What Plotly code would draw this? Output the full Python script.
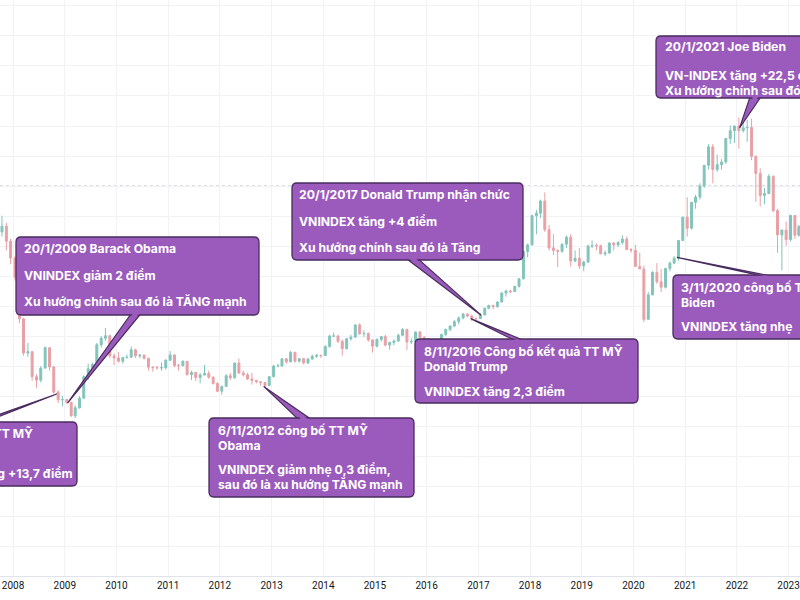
import plotly.graph_objects as go
import pandas as pd

# ---------------- data (monthly VN-INDEX, Oct 2007 .. Mar 2023) ----------------
opens = [
    1040, 1065, 1000,
    927, 844, 664, 516, 522, 414, 399, 451, 539, 456, 347, 314,
    315, 303, 245, 280, 321, 414, 448, 467, 552, 580, 591, 504,
    495, 481, 497, 498, 530, 504, 507, 494, 455, 453, 452, 453,
    485, 508, 462, 462, 480, 423, 432, 410, 421, 428, 412, 385,
    351, 372, 418, 409, 473, 430, 422, 404, 398, 392, 389, 376,
    414, 460, 460, 491, 478, 519, 481, 492, 473, 490, 502, 506,
    505, 544, 590, 590, 567, 535, 578, 585, 638, 600, 601, 573,
    546, 575, 587, 551, 562, 568, 593, 618, 564, 567, 607, 583,
    579, 546, 562, 561, 596, 618, 633, 652, 668, 685, 676, 665,
    665, 681, 710, 722, 717, 737, 776, 784, 782, 804, 837, 955,
    984, 1110, 1121, 1174, 1050, 971, 960, 956, 987, 1017, 914, 926,
    893, 910, 979, 981, 980, 945, 949, 992, 984, 994, 1009, 964,
    961, 891, 880, 662, 768, 865, 825, 801, 882, 905, 926, 1003,
    1104, 1056, 1168, 1191, 1239, 1328, 1408, 1310, 1331, 1342, 1444, 1478,
    1498, 1478, 1490, 1492, 1367, 1293, 1198, 1206, 1280, 1132, 1027, 1048,
    1007, 1111, 1026,
]
highs = [
    1110, 1080, 1010,
    935, 850, 668, 560, 525, 425, 460, 545, 540, 460, 355, 330,
    318, 305, 290, 330, 420, 470, 475, 560, 590, 624, 595, 515,
    520, 500, 510, 545, 535, 512, 510, 495, 460, 460, 475, 490,
    525, 510, 470, 485, 482, 440, 435, 430, 465, 440, 415, 390,
    375, 425, 430, 475, 493, 440, 430, 430, 400, 395, 390, 415,
    465, 470, 495, 495, 525, 522, 495, 495, 495, 510, 512, 510,
    550, 595, 605, 595, 575, 580, 595, 640, 645, 615, 605, 575,
    580, 590, 595, 565, 575, 600, 625, 622, 580, 610, 612, 590,
    580, 565, 575, 600, 622, 635, 660, 675, 690, 688, 682, 670,
    690, 712, 725, 725, 740, 778, 790, 790, 808, 840, 960, 990,
    1115, 1135, 1180, 1211, 1070, 1030, 965, 990, 1025, 1030, 960, 970,
    915, 985, 1003, 990, 985, 960, 995, 997, 1000, 1025, 1020, 970,
    985, 950, 895, 780, 870, 905, 880, 885, 912, 935, 1005, 1105,
    1190, 1170, 1200, 1250, 1330, 1420, 1420, 1375, 1355, 1445, 1500, 1500,
    1536, 1510, 1525, 1530, 1370, 1315, 1230, 1290, 1285, 1140, 1050, 1085,
    1115, 1112, 1070,
]
lows = [
    1020, 960, 900,
    830, 645, 505, 500, 396, 366, 390, 450, 440, 340, 300, 286,
    296, 240, 235, 275, 318, 400, 430, 462, 540, 570, 495, 464,
    475, 470, 492, 497, 495, 495, 488, 440, 435, 445, 440, 445,
    483, 455, 440, 458, 418, 400, 395, 385, 420, 405, 380, 347,
    336, 370, 400, 405, 425, 415, 400, 380, 385, 375, 366, 375,
    412, 455, 458, 470, 477, 475, 475, 468, 470, 488, 495, 495,
    503, 540, 585, 560, 505, 532, 570, 583, 595, 585, 565, 518,
    540, 565, 545, 530, 550, 565, 590, 530, 555, 565, 575, 560,
    520, 535, 555, 558, 590, 610, 628, 640, 662, 670, 655, 650,
    663, 680, 705, 705, 712, 735, 760, 775, 780, 800, 835, 930,
    982, 1030, 1100, 1040, 960, 940, 888, 950, 970, 890, 910, 880,
    870, 905, 970, 960, 945, 935, 945, 960, 975, 985, 960, 950,
    890, 880, 649, 660, 765, 815, 780, 795, 870, 900, 915, 1000,
    1020, 1050, 1140, 1180, 1230, 1310, 1250, 1300, 1310, 1335, 1420, 1425,
    1400, 1470, 1430, 1350, 1170, 1150, 1160, 1205, 1125, 950, 873, 980,
    1000, 1010, 1020,
]
closes = [
    1065, 1000, 927,
    844, 664, 516, 522, 414, 399, 451, 539, 456, 347, 314, 315,
    303, 245, 280, 321, 414, 448, 467, 552, 580, 591, 504, 495,
    481, 497, 498, 530, 504, 507, 494, 455, 453, 452, 453, 485,
    508, 462, 462, 480, 423, 432, 410, 421, 428, 412, 385, 351,
    372, 418, 409, 473, 430, 422, 404, 398, 392, 389, 376, 414,
    460, 460, 491, 478, 519, 481, 492, 473, 490, 502, 506, 505,
    544, 590, 590, 567, 535, 578, 585, 638, 600, 601, 573, 546,
    575, 587, 551, 562, 568, 593, 618, 564, 567, 607, 583, 579,
    546, 562, 561, 596, 618, 633, 652, 668, 685, 676, 665, 665,
    681, 710, 722, 717, 737, 776, 784, 782, 804, 837, 955, 984,
    1110, 1121, 1174, 1050, 971, 960, 956, 987, 1017, 914, 926, 893,
    910, 979, 981, 980, 945, 949, 992, 984, 994, 1009, 964, 961,
    891, 880, 662, 768, 865, 825, 801, 882, 905, 926, 1003, 1104,
    1056, 1168, 1191, 1239, 1328, 1408, 1310, 1331, 1342, 1444, 1478, 1498,
    1478, 1490, 1492, 1367, 1293, 1198, 1206, 1280, 1132, 1027, 1048, 1007,
    1111, 1026, 1064,
]
months = pd.date_range("2007-10-01", "2023-03-01", freq="MS") + pd.Timedelta(days=14)

LEVEL = 1238  # dotted horizontal level line

# callouts: (anchor date, anchor value) and text lines
callouts = [
    dict(date="2008-11-05", value=339,
         lines=[("5/11/2008 công bố TT MỸ", 35, 433, "right"),
                ("Obama", -150, 448, "left"),
                ("VNINDEX tăng +13,7 điểm", 75, 473, "right")],
         box=(-160, 422, 77, 486), base=(-29, "top", 4)),
    dict(date="2009-01-20", value=300,
         lines=[("20/1/2009 Barack Obama", 22, 248, "left"),
                ("VNINDEX giảm 2 điểm", 22, 275, "left"),
                ("Xu hướng chính sau đó là TĂNG mạnh", 22, 301, "left")],
         box=(16, 237, 259, 315), base=(138, "bottom", 5)),
    dict(date="2012-11-06", value=372,
         lines=[("6/11/2012 công bố TT MỸ", 216, 430, "left"),
                ("Obama", 216, 445, "left"),
                ("VNINDEX giảm nhẹ 0,3 điểm,", 216, 469, "left"),
                ("sau đó là xu hướng TĂNG mạnh", 216, 484, "left")],
         box=(209, 418, 414, 497), base=(308, "top", 7)),
    dict(date="2016-11-08", value=665,
         lines=[("8/11/2016 Công bố kết quả TT MỸ", 422, 351, "left"),
                ("Donald Trump", 422, 366, "left"),
                ("VNINDEX tăng 2,3 điểm", 422, 391, "left")],
         box=(415, 339, 638, 403), base=(525, "top", 5)),
    dict(date="2017-01-20", value=680,
         lines=[("20/1/2017 Donald Trump nhận chức", 297, 194, "left"),
                ("VNINDEX tăng +4 điểm", 297, 221, "left"),
                ("Xu hướng chính sau đó là Tăng", 297, 247, "left")],
         box=(292, 183, 523, 260), base=(409, "bottom", 6)),
    dict(date="2020-11-03", value=930,
         lines=[("3/11/2020 công bố TT MỸ", 679, 287, "left"),
                ("Biden", 679, 302, "left"),
                ("VNINDEX tăng nhẹ", 679, 326, "left")],
         box=(673, 275, 840, 339), base=(781, "top", 5)),
    dict(date="2022-01-20", value=1490,
         lines=[("20/1/2021 Joe Biden", 663, 47, "left"),
                ("VN-INDEX tăng +22,5 điểm", 663, 75, "left"),
                ("Xu hướng chính sau đó", 663, 90, "left")],
         box=(656, 36, 840, 98), base=(757, "bottom", 6)),
]

# ---------------- layout constants ----------------
W, H, MB = 800, 600, 24
PH = H - MB
XR = ["2007-10-01", "2023-03-23"]
YR = [-448, 2043]
UP, DOWN = "#82c4ba", "#e8a0a6"
PURPLE, EDGE = "#9b5bbd", "#4a2d5e"
FONT = dict(family="Inter", size=12.2, color="white", weight="bold")

fig = go.Figure()
fig.add_trace(go.Candlestick(
    x=months, open=opens, high=highs, low=lows, close=closes,
    increasing=dict(line=dict(color=UP, width=1), fillcolor=UP),
    decreasing=dict(line=dict(color=DOWN, width=1), fillcolor=DOWN),
    whiskerwidth=0, showlegend=False, hoverinfo="skip",
))

t0, t1 = pd.Timestamp(XR[0]), pd.Timestamp(XR[1])


def px_x(date):
    return (pd.Timestamp(date) - t0) / (t1 - t0) * W


def px_y(v):
    return PH * (1 - (v - YR[0]) / (YR[1] - YR[0]))


def PX(x):
    return x / W


def PY(y):
    return 1 - y / PH


def rrect(x0, y0, x1, y1, r=5):
    pts = [
        f"M {PX(x0 + r)},{PY(y0)}", f"L {PX(x1 - r)},{PY(y0)}",
        f"Q {PX(x1)},{PY(y0)} {PX(x1)},{PY(y0 + r)}", f"L {PX(x1)},{PY(y1 - r)}",
        f"Q {PX(x1)},{PY(y1)} {PX(x1 - r)},{PY(y1)}", f"L {PX(x0 + r)},{PY(y1)}",
        f"Q {PX(x0)},{PY(y1)} {PX(x0)},{PY(y1 - r)}", f"L {PX(x0)},{PY(y0 + r)}",
        f"Q {PX(x0)},{PY(y0)} {PX(x0 + r)},{PY(y0)}", "Z",
    ]
    return " ".join(pts)


shapes = [dict(type="line", xref="paper", x0=0, x1=1, yref="y", y0=LEVEL, y1=LEVEL,
               line=dict(color="#a3a6af", width=1, dash="dot"), layer="below")]
annotations = []

for c in callouts:
    tx, ty = px_x(c["date"]), px_y(c["value"])
    bx0, by0, bx1, by1 = c["box"]
    cx, side, hw = c["base"]
    edge_y = by0 if side == "top" else by1
    inside = 4 if side == "top" else -4
    b1 = (cx - hw, edge_y + inside)
    b2 = (cx + hw, edge_y + inside)
    wedge = f"M {PX(tx)},{PY(ty)} L {PX(b1[0])},{PY(b1[1])} L {PX(b2[0])},{PY(b2[1])} Z"
    shapes.append(dict(type="path", xref="paper", yref="paper", path=wedge,
                       fillcolor=PURPLE, line=dict(color=EDGE, width=1.2)))
    shapes.append(dict(type="path", xref="paper", yref="paper", path=rrect(bx0, by0, bx1, by1),
                       fillcolor=PURPLE, line=dict(color=EDGE, width=1.3)))
    # patch hiding the box border where the tail joins
    f = 0.25
    mx, my = tx + (cx - tx) * (1 - f), ty + (edge_y + inside - ty) * (1 - f)
    patch = (f"M {PX(mx)},{PY(my)} L {PX(b1[0] + 1.3)},{PY(b1[1])} "
             f"L {PX(b2[0] - 1.3)},{PY(b2[1])} Z")
    shapes.append(dict(type="path", xref="paper", yref="paper", path=patch,
                       fillcolor=PURPLE, line=dict(width=0)))
    for text, lx, ly, anc in c["lines"]:
        annotations.append(dict(
            text=text, xref="paper", yref="paper", x=PX(lx), y=PY(ly),
            xanchor=anc, yanchor="middle", showarrow=False, align="left",
            font=FONT,
        ))

fig.update_layout(
    width=W, height=H, margin=dict(l=0, r=0, t=0, b=MB),
    paper_bgcolor="white", plot_bgcolor="white",
    shapes=shapes, annotations=annotations, showlegend=False,
    xaxis=dict(type="date", range=XR, rangeslider=dict(visible=False),
               tick0="2008-01-01", dtick="M12", tickformat="%Y",
               showgrid=True, gridcolor="#f0f2f7", ticks="", showline=True,
               linecolor="#e0e3eb", tickfont=dict(family="Roboto", size=10, color="#131722"),
               zeroline=False, fixedrange=True),
    yaxis=dict(range=YR, showticklabels=False, showgrid=True, gridcolor="#f0f2f7",
               dtick=130, tick0=1238, zeroline=False, fixedrange=True),
)

fig.write_html("out.html")
